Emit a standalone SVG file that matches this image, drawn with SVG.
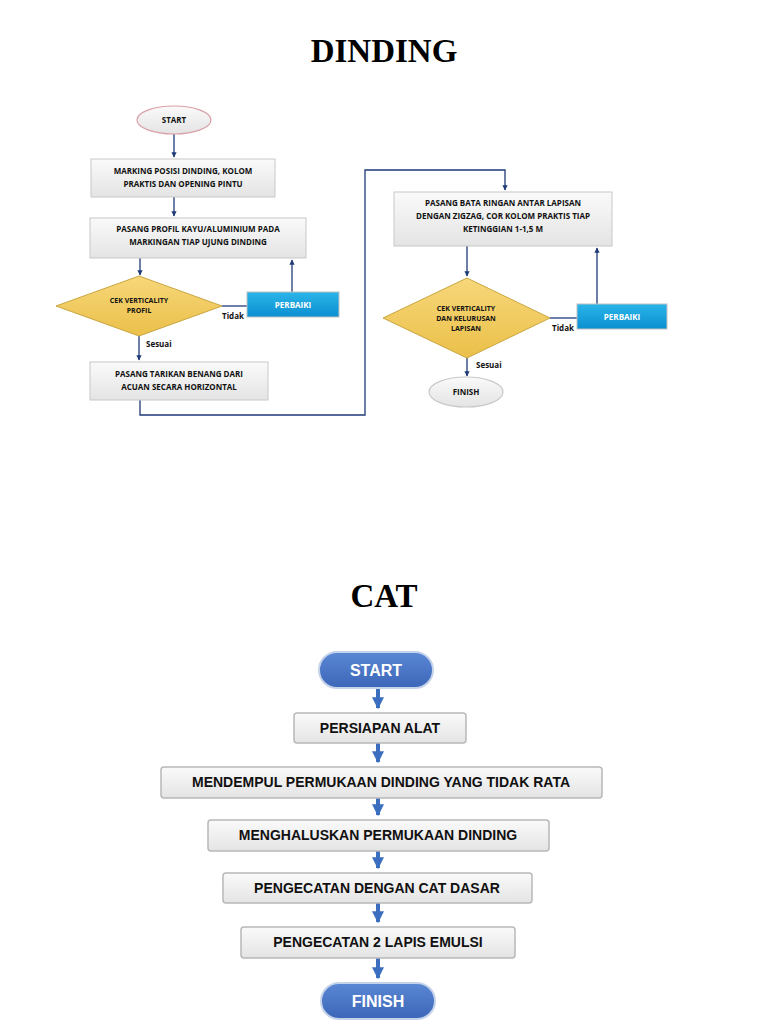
<svg xmlns="http://www.w3.org/2000/svg" width="768" height="1024" viewBox="0 0 768 1024">
<defs>
<linearGradient id="gbox" x1="0" y1="0" x2="0" y2="1"><stop offset="0" stop-color="#fafafa"/><stop offset="1" stop-color="#e4e4e4"/></linearGradient>
<linearGradient id="gdia" x1="0" y1="0" x2="0" y2="1"><stop offset="0" stop-color="#f7d77a"/><stop offset="1" stop-color="#ebc04a"/></linearGradient>
<linearGradient id="gblue" x1="0" y1="0" x2="0" y2="1"><stop offset="0" stop-color="#2bb5ea"/><stop offset="1" stop-color="#0a8fd0"/></linearGradient>
<linearGradient id="gpill" x1="0" y1="0" x2="0" y2="1"><stop offset="0" stop-color="#5a88d4"/><stop offset="1" stop-color="#3c66b8"/></linearGradient>
<marker id="ah" viewBox="0 0 10 10" refX="9" refY="5" markerWidth="4" markerHeight="4" orient="auto"><path d="M0,0L10,5L0,10z" fill="#1f3a78"/></marker>
<marker id="bh" viewBox="0 0 10 10" refX="9" refY="5" markerWidth="3" markerHeight="3" orient="auto"><path d="M0,0L10,5L0,10z" fill="#3c6ec0"/></marker>
</defs>
<style>
.t{font-family:"Liberation Serif",serif;font-weight:bold;font-size:33px;text-anchor:middle}
.s{font-family:"Open Sans","Liberation Sans",sans-serif;font-weight:bold;font-size:8px;text-anchor:middle;fill:#111}
.w{fill:#fff}
.l{font-family:"Open Sans","Liberation Sans",sans-serif;font-weight:bold;font-size:8px;fill:#111}
.box{fill:url(#gbox);stroke:#c8c8c8;stroke-width:1}
.dia{fill:url(#gdia);stroke:#c9a640;stroke-width:1}
.blu{fill:url(#gblue);stroke:#c0c0c0;stroke-width:1}
.ell{fill:url(#gbox);stroke:#d9a0a8;stroke-width:1.2}
.c{fill:none;stroke:#1f3a78;stroke-width:1.3}
.cb{fill:none;stroke:#3c6ec0;stroke-width:4}
.cbox{fill:url(#gbox);stroke:#b8b8b8;stroke-width:1.5}
.ct{font-family:"Liberation Sans",Arial,sans-serif;font-weight:bold;font-size:14px;text-anchor:middle;fill:#111}
.pill{fill:url(#gpill);stroke:#c5d3ea;stroke-width:2}
.pt{font-family:"Liberation Sans",Arial,sans-serif;font-weight:bold;font-size:16px;text-anchor:middle;fill:#fff}
</style>
<text class="t" x="384" y="62">DINDING</text>
<text class="t" x="384" y="607">CAT</text>
<g id="connectors">
<path class="c" d="M174,134V157" marker-end="url(#ah)"/>
<path class="c" d="M174,197V216" marker-end="url(#ah)"/>
<path class="c" d="M140,258V275" marker-end="url(#ah)"/>
<path class="c" d="M139,336V360" marker-end="url(#ah)"/>
<path class="c" d="M222,306H247"/>
<path class="c" d="M292,292V260" marker-end="url(#ah)"/>
<path class="c" d="M140,400V415H365V170H505V190" marker-end="url(#ah)"/>
<path class="c" d="M467,246V276" marker-end="url(#ah)"/>
<path class="c" d="M550,318H577"/>
<path class="c" d="M597,304V248" marker-end="url(#ah)"/>
<path class="c" d="M467,358V376" marker-end="url(#ah)"/>
<path class="cb" d="M378,688V708" marker-end="url(#bh)"/>
<path class="cb" d="M378,743V762" marker-end="url(#bh)"/>
<path class="cb" d="M378,798V815" marker-end="url(#bh)"/>
<path class="cb" d="M378,851V868" marker-end="url(#bh)"/>
<path class="cb" d="M378,903V922" marker-end="url(#bh)"/>
<path class="cb" d="M378,958V978" marker-end="url(#bh)"/>
</g>
<text class="l" x="222" y="319">Tidak</text>
<text class="l" x="146" y="347">Sesuai</text>
<text class="l" x="552" y="331">Tidak</text>
<text class="l" x="476" y="368">Sesuai</text>
<g id="start1"><ellipse class="ell" cx="174" cy="120" rx="37" ry="14"/><text class="s" x="174" y="123">START</text></g>
<g id="marking"><rect class="box" x="91" y="159" width="184" height="38"/><text class="s" x="183" y="174">MARKING POSISI DINDING, KOLOM</text><text class="s" x="183" y="187">PRAKTIS DAN OPENING PINTU</text></g>
<g id="profil"><rect class="box" x="90" y="218" width="216" height="40"/><text class="s" x="198" y="232">PASANG PROFIL KAYU/ALUMINIUM PADA</text><text class="s" x="198" y="245">MARKINGAN TIAP UJUNG DINDING</text></g>
<g id="cek1"><polygon class="dia" points="139,276 222,306 139,336 56,306"/><text class="s" x="139" y="303" style="font-size:7px">CEK VERTICALITY</text><text class="s" x="139" y="313" style="font-size:7px">PROFIL</text></g>
<g id="perbaiki1"><rect class="blu" x="247" y="292" width="92" height="25"/><text class="s w" x="293" y="308">PERBAIKI</text></g>
<g id="benang"><rect class="box" x="90" y="362" width="178" height="38"/><text class="s" x="179" y="377">PASANG TARIKAN BENANG DARI</text><text class="s" x="179" y="390">ACUAN SECARA HORIZONTAL</text></g>
<g id="bata"><rect class="box" x="394" y="192" width="218" height="54"/><text class="s" x="503" y="206">PASANG BATA RINGAN ANTAR LAPISAN</text><text class="s" x="503" y="219">DENGAN ZIGZAG, COR KOLOM PRAKTIS TIAP</text><text class="s" x="503" y="232">KETINGGIAN 1-1,5 M</text></g>
<g id="cek2"><polygon class="dia" points="467,278 550,318 467,358 383,318"/><text class="s" x="466" y="311" style="font-size:7px">CEK VERTICALITY</text><text class="s" x="466" y="321" style="font-size:7px">DAN KELURUSAN</text><text class="s" x="466" y="331" style="font-size:7px">LAPISAN</text></g>
<g id="perbaiki2"><rect class="blu" x="577" y="304" width="90" height="25"/><text class="s w" x="622" y="320">PERBAIKI</text></g>
<g id="finish1"><ellipse class="ell" cx="466" cy="392" rx="37" ry="15" style="stroke:#c8c8c8"/><text class="s" x="466" y="395">FINISH</text></g>
<g id="start2"><rect class="pill" x="319" y="652" width="114" height="36" rx="18"/><text class="pt" x="376" y="676">START</text></g>
<g id="persiapan"><rect class="cbox" x="294" y="713" width="172" height="30" rx="3"/><text class="ct" x="380" y="733">PERSIAPAN ALAT</text></g>
<g id="mendempul"><rect class="cbox" x="161" y="767" width="441" height="31" rx="3"/><text class="ct" x="381" y="787">MENDEMPUL PERMUKAAN DINDING YANG TIDAK RATA</text></g>
<g id="menghaluskan"><rect class="cbox" x="208" y="820" width="341" height="31" rx="3"/><text class="ct" x="378" y="840">MENGHALUSKAN PERMUKAAN DINDING</text></g>
<g id="dasar"><rect class="cbox" x="223" y="873" width="309" height="30" rx="3"/><text class="ct" x="377" y="893">PENGECATAN DENGAN CAT DASAR</text></g>
<g id="emulsi"><rect class="cbox" x="241" y="927" width="274" height="31" rx="3"/><text class="ct" x="378" y="947">PENGECATAN 2 LAPIS EMULSI</text></g>
<g id="finish2"><rect class="pill" x="321" y="983" width="114" height="36" rx="18"/><text class="pt" x="378" y="1007">FINISH</text></g>
</svg>
